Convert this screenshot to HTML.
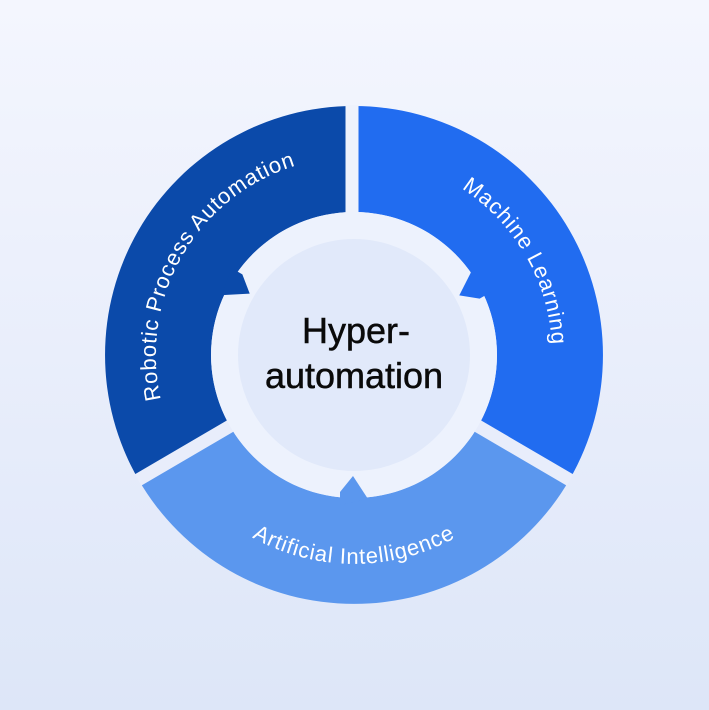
<!DOCTYPE html>
<html><head><style>
html,body{margin:0;padding:0;}
body{width:709px;height:710px;overflow:hidden;background:linear-gradient(180deg,#f4f6fe 0%,#e9eefb 50%,#dde6f8 100%);}
svg{display:block}
</style></head><body>
<svg width="709" height="710" viewBox="0 0 709 710" xmlns="http://www.w3.org/2000/svg">
  <path d="M138.4,479.5 A249,249 0 0 1 354,106 L354,212 A143,143 0 0 0 230.2,426.5 Z" fill="#0b4aaa"/>
  <path d="M354,106 A249,249 0 0 1 569.6,479.5 L477.8,426.5 A143,143 0 0 0 354,212 Z" fill="#216cf0"/>
  <path d="M569.6,479.5 A249,249 0 0 1 138.4,479.5 L230.2,426.5 A143,143 0 0 0 477.8,426.5 Z" fill="#5b97ee"/>
  <line x1="352" y1="105" x2="352" y2="215" stroke="#eef2fc" stroke-width="13"/>
  <line x1="232" y1="425" x2="138" y2="480" stroke="#e8edfb" stroke-width="13"/>
  <line x1="476" y1="425" x2="570" y2="480" stroke="#e8edfb" stroke-width="13"/>
  <circle cx="354" cy="355" r="143" fill="#edf2fd"/>
  <g transform="translate(354,355)">
    <polygon points="-14,137 -1,121 14,144 -14,150" fill="#5b97ee"/>
    <polygon points="-14,137 -1,121 14,144 -14,150" fill="#0b4aaa" transform="rotate(120)"/>
    <polygon points="-14,137 -1,121 14,144 -14,150" fill="#216cf0" transform="rotate(240)"/>
  </g>
  <circle cx="354" cy="355" r="116" fill="#e1e9fa"/>
  <defs>
    <path id="p1" d="M226.7,506.7 A198,198 0 0 1 421.7,168.9"/>
    <path id="p2" d="M286.3,168.9 A198,198 0 0 1 481.3,506.7"/>
    <path id="p3" d="M148.2,391.3 A209,209 0 0 0 559.8,391.3"/>
  </defs>
  <g font-family="Liberation Sans, sans-serif" font-size="22" fill="#ffffff" letter-spacing="0.8">
    <text><textPath href="#p1" startOffset="50%" text-anchor="middle">Robotic Process Automation</textPath></text>
    <text><textPath href="#p2" startOffset="50%" text-anchor="middle">Machine Learning</textPath></text>
    <text><textPath href="#p3" startOffset="50%" text-anchor="middle">Artificial Intelligence</textPath></text>
  </g>
  <g font-family="Liberation Sans, sans-serif" font-size="36" fill="#0a0a0a" text-anchor="middle" stroke="#0a0a0a" stroke-width="0.5">
    <text x="356" y="343">Hyper-</text>
    <text x="354" y="388">automation</text>
  </g>
</svg>
</body></html>
